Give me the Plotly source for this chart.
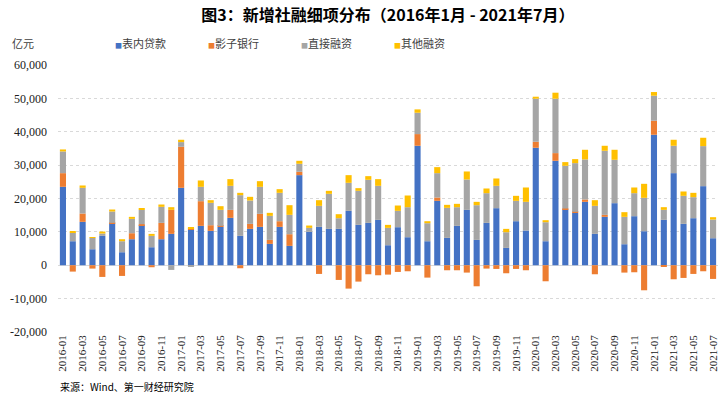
import plotly.graph_objects as go

months = [f"{y}-{m:02d}" for y in range(2016, 2022) for m in range(1, 13)][:67]

loans = [23500, 7200, 13000, 4800, 8800, 12600, 3900, 7800, 12000, 5400, 7800, 9400,
         23200, 10600, 11800, 10300, 11500, 14200, 8800, 10900, 11500, 6400, 11500, 5800,
         27000, 10000, 11500, 10900, 10900, 16300, 12100, 12700, 13600, 6000, 11400, 8400,
         35800, 7200, 19300, 8200, 11800, 16600, 7600, 12700, 17100, 5200, 13200, 10400,
         35200, 7200, 31300, 16800, 15700, 19000, 9400, 14500, 18600, 6300, 14700, 10200,
         39100, 13600, 27600, 12400, 14100, 23700, 8100]
shadow = [4100, -1900, 2500, -1000, -3500, 100, -3200, 1800, 300, -600, 4900, 7200,
          12300, 300, 7400, 1700, 300, 2400, -900, 1500, 3900, 1200, 1700, 3500,
          1000, 0, -2600, 0, -4400, -7000, -4900, -2700, -3000, -2800, -2000, -1800,
          3500, -3700, 1000, -1500, -1500, -2200, -6300, -1000, -1100, -2400, -1100, -1500,
          1800, -4800, 2300, 200, 300, 700, -2700, 600, 0, -2200, -2100, -7500,
          4200, -400, -4200, -3800, -2600, -1800, -4100]
direct = [6500, 2600, 7700, 3400, 700, 3400, 3300, 4300, 4300, 3400, 4800, -1400,
          1400, -500, 4300, 6700, 4800, 7200, 12200, 7000, 8100, 7200, 8500, 5800,
          2400, 1200, 6300, 10500, 3200, 8400, 10200, 12900, 10200, 5200, 4900, 9000,
          6400, 5400, 7300, 9000, 5600, 9100, 10400, 8900, 6700, 4700, 6100, 8600,
          12900, 5700, 16300, 12800, 14600, 12000, 8400, 19200, 13000, 8200, 6900, 10000,
          7500, 3000, 8200, 8400, 6300, 12000, 5600]
other = [600, 300, 700, 200, 600, 600, 600, 600, 500, 600, 700, 800,
         700, 300, 1900, 800, 1100, 2000, 700, 1100, 1700, 900, 1100, 2900,
         900, 700, 1700, 900, 1200, 2300, 800, 1100, 2000, 900, 1600, 3500,
         1000, 600, 1800, 900, 1000, 2400, 1000, 1400, 2200, 1000, 1500, 4300,
         600, 600, 1800, 1100, 1200, 2900, 1700, 1500, 3000, 1400, 1700, 4200,
         1100, 800, 1800, 1300, 1300, 2500, 700]

series_names = ["表内贷款", "影子银行", "直接融资", "其他融资"]
series_vals = [loans, shadow, direct, other]
series_colors = ["#4472C4", "#ED7D31", "#A5A5A5", "#FFC000"]

y_ticks = [-20000, -10000, 0, 10000, 20000, 30000, 40000, 50000, 60000]
y_tick_text = [f"{v:,}" for v in y_ticks]
tick_vals = months[::2]

fig = go.Figure()
for name, vals, col in zip(series_names, series_vals, series_colors):
    fig.add_trace(go.Bar(x=months, y=vals, name=name, showlegend=False,
                         marker=dict(color=col, line=dict(width=0))))

cjk = "Noto Sans CJK SC"
legend_x = [0.083, 0.224, 0.365, 0.506]
annotations = [
    dict(text="亿元", xref="paper", yref="paper", x=-0.072, y=1.082, xanchor="left", yanchor="middle",
         showarrow=False, font=dict(family=cjk, size=11, color="#404040")),
    dict(text="来源：Wind、第一财经研究院", xref="paper", yref="paper", x=0.0, y=-0.168,
         xanchor="left", yanchor="top", showarrow=False, font=dict(family=cjk, size=10, color="black")),
]
for name, col, lx in zip(series_names, series_colors, legend_x):
    annotations.append(dict(
        text=f'<span style="color:{col};font-size:7px">■</span>{name}',
        xref="paper", yref="paper", x=lx, y=1.082, xanchor="left", yanchor="middle",
        showarrow=False, font=dict(family=cjk, size=11, color="#404040")))

fig.update_layout(
    width=725, height=402, barmode="relative", bargap=0.38,
    paper_bgcolor="white", plot_bgcolor="white",
    margin=dict(l=58, r=7, t=65, b=70),
    font=dict(family=cjk, color="#404040", size=11),
    showlegend=False,
    title=dict(text="<b>图3：新增社融细项分布（2016年1月 - 2021年7月）</b>", x=0.535, xanchor="center",
               y=0.962, yanchor="middle", font=dict(family=cjk, size=16, color="black")),
    xaxis=dict(type="category", tickmode="array", tickvals=tick_vals, ticktext=tick_vals,
               tickangle=-90, tickfont=dict(family="Liberation Serif", size=11, color="#202020"),
               showgrid=False, showline=False, ticks="", range=[-0.5, 66.5]),
    yaxis=dict(range=[-20000, 60000], tickvals=y_ticks, ticktext=y_tick_text,
               tickfont=dict(family="Liberation Serif", size=12, color="#202020"),
               showgrid=True, gridcolor="#D9D9D9", griddash="dot", gridwidth=1,
               zeroline=True, zerolinecolor="#D9D9D9", zerolinewidth=1, ticklabelstandoff=10),
    annotations=annotations,
)

fig.write_html("out.html")
